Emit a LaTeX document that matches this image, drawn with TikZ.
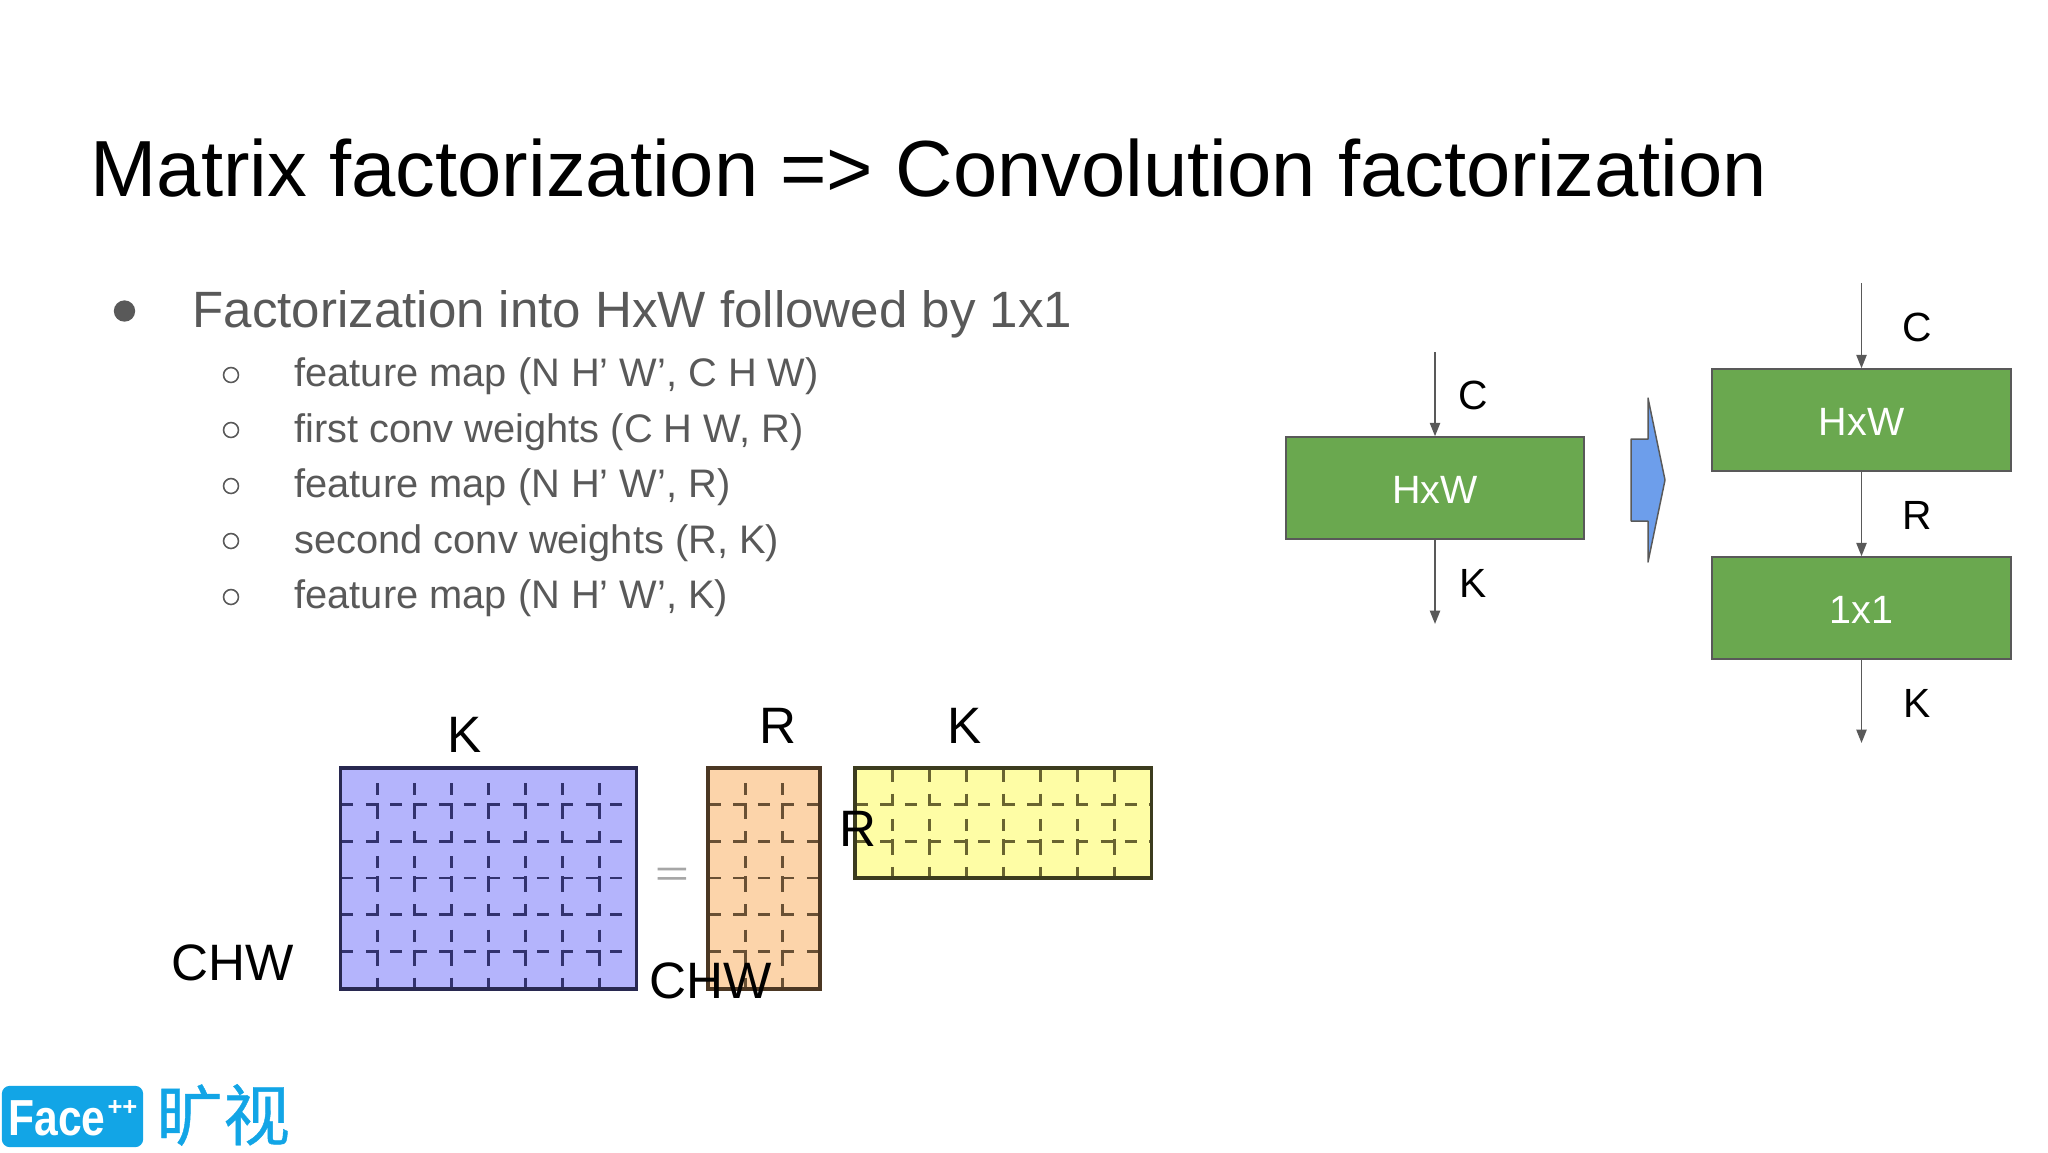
\documentclass[tikz,border=0pt]{standalone}
\usepackage{fontspec}
\setmainfont{Liberation Sans}
\newfontfamily\cjk[FakeBold=.6]{Noto Sans CJK SC}
\usetikzlibrary{arrows.meta}
\definecolor{slidegray}{HTML}{595959}
\definecolor{convgreen}{HTML}{6AA84F}
\definecolor{facepp}{HTML}{12A5E6}
\tikzset{
  headline/.style={anchor=base west,inner sep=0pt,font=\fontsize{29.85}{35}\selectfont},
  bulletone/.style={anchor=base west,inner sep=0pt,text=slidegray,font=\fontsize{19.15}{24}\selectfont},
  bullettwo/.style={anchor=base west,inner sep=0pt,text=slidegray,font=\fontsize{14.93}{19}\selectfont},
  dotfull/.style={circle,fill=slidegray,inner sep=0pt,minimum size=8pt},
  dotopen/.style={circle,draw=slidegray,line width=.6pt,inner sep=0pt,minimum size=5.6pt},
  conv/.style={draw=slidegray,line width=.8pt,fill=convgreen,text=white,minimum width=112pt,
    minimum height=38pt,inner sep=0pt,text height=11.6pt,text depth=0pt,font=\fontsize{14.8}{18}\selectfont},
  flow/.style={draw=slidegray,line width=.7pt,-{Triangle[length=5pt,width=3.8pt]}},
  dimsmall/.style={inner sep=0pt,font=\fontsize{15.3}{19}\selectfont},
  dimbig/.style={inner sep=0pt,font=\fontsize{19.2}{22}\selectfont},
  gridv/.style={line width=1pt,dash pattern=on 4.5pt off 3pt on 6pt off 4.5pt on 4.5pt off 5pt,dash phase=21.86pt},
  gridh/.style={line width=1pt,dash pattern=on 4.5pt off 4.67pt,dash phase=8.8pt},
  matbox/.style={line width=1.4pt}
}
\begin{document}
\begin{tikzpicture}[x=.375pt,y=-.375pt]
  \useasboundingbox (0,0) rectangle (2048,1152);

  \node[headline] (title) at (90,196) {Matrix factorization => Convolution factorization};

  % bullet list
  \node[dotfull] (dot0) at (124.5,311) {};
  \node[bulletone] (item0) at (192,327) {Factorization into HxW followed by 1x1};
  \foreach \i/\ya/\yb/\txt in {1/375/386.5/{feature map (N H’ W’, C H W)},
      2/430/442.5/{first conv weights (C H W, R)},
      3/486/497.5/{feature map (N H’ W’, R)},
      4/541/553.5/{second conv weights (R, K)},
      5/597/608.5/{feature map (N H’ W’, K)}} {
    \node[dotopen] (dot\i) at (231,\ya) {};
    \node[bullettwo] (item\i) at (294,\yb) {\txt};
  }

  % matrices
  \fill[fill={rgb,255:red,180;green,180;blue,252}] (340.4,768) rectangle (636.5,989);
  \foreach \a in {1,...,7}
    \draw[gridv,draw={rgb,255:red,50;green,50;blue,110}] (340.4+37*\a,768) -- (340.4+37*\a,989);
  \foreach \a in {1,...,5}
    \draw[gridh,draw={rgb,255:red,50;green,50;blue,110}] (340.4,768+36.7*\a) -- (636.5,768+36.7*\a);
  \draw[matbox,draw={rgb,255:red,40;green,40;blue,80}] (340.4,768) rectangle (636.5,989);

  \fill[fill={rgb,255:red,252;green,212;blue,170}] (708,768) rectangle (820,989);
  \foreach \a in {1,2}
    \draw[gridv,draw={rgb,255:red,105;green,80;blue,52}] (708+37.3*\a,768) -- (708+37.3*\a,989);
  \foreach \a in {1,...,5}
    \draw[gridh,draw={rgb,255:red,105;green,80;blue,52}] (708,768+36.7*\a) -- (820,768+36.7*\a);
  \draw[matbox,draw={rgb,255:red,75;green,55;blue,35}] (708,768) rectangle (820,989);

  \fill[fill={rgb,255:red,254;green,253;blue,165}] (855,768) rectangle (1151.6,878);
  \foreach \a in {1,...,7}
    \draw[gridv,dash phase=8.4pt,draw={rgb,255:red,105;green,100;blue,48}] (855.7+37*\a,768) -- (855.7+37*\a,878);
  \foreach \a in {1,2}
    \draw[gridh,draw={rgb,255:red,105;green,100;blue,48}] (855,768+36.7*\a) -- (1151.6,768+36.7*\a);
  \draw[matbox,draw={rgb,255:red,60;green,60;blue,30}] (855,768) rectangle (1151.6,878);

  \node[inner sep=0pt,text=gray!70,font=\fontsize{20}{24}\selectfont] (eq) at (672,877) {\scalebox{1.1}[.7]{=}};

  \node[dimbig] (kone) at (464.5,735) {K};
  \node[dimbig] (rone) at (778,726) {R};
  \node[dimbig] (ktwo) at (965,726) {K};
  \node[dimbig] (rtwo) at (858,829) {R};
  \node[dimbig] (chwone) at (232.3,963) {CHW};
  \node[dimbig] (chwtwo) at (710.3,981) {CHW};

  % single convolution
  \node[conv] (hxw) at (1435,488) {HxW};
  \coordinate (hxwin) at (1435,352);
  \coordinate (hxwout) at (1435,624);
  \draw[flow] (hxwin) -- (hxw);
  \draw[flow] (hxw) -- (hxwout);
  \node[dimsmall] (cleft) at (1473.5,395) {C};
  \node[dimsmall] (kleft) at (1473,583) {K};

  % big arrow
  \draw[draw=slidegray,line width=.55pt,fill={rgb,255:red,109;green,158;blue,235},line join=round]
    (1648,398) -- (1665,480) -- (1648,562) -- (1648,521) -- (1631,521) -- (1631,439) -- (1648,439) -- cycle;

  % factorized convolution
  \node[conv] (hxwb) at (1861.5,420) {HxW};
  \node[conv] (oneone) at (1861.5,608) {1x1};
  \coordinate (hxwbin) at (1861.5,283);
  \coordinate (oneout) at (1861.5,743);
  \draw[flow] (hxwbin) -- (hxwb);
  \draw[flow] (hxwb) -- (oneone);
  \draw[flow] (oneone) -- (oneout);
  \node[dimsmall] (cright) at (1917,327) {C};
  \node[dimsmall] (rright) at (1917,515) {R};
  \node[dimsmall] (kright) at (1917,703) {K};

  % logo
  \node[fill=facepp,rounded corners=3pt,minimum width=53pt,minimum height=23pt,inner sep=0pt] (logo) at (72.5,1116.5) {};
  \node[inner sep=0pt,anchor=base west,text=white,font=\fontsize{19}{22}\bfseries] (face) at (8,1135) {\scalebox{.84}[1]{Face}};
  \node[inner sep=0pt,anchor=base west,text=white,font=\fontsize{9.6}{12}\bfseries] (plus) at (107,1115) {++};
  \node[inner sep=0pt,anchor=base west,text=facepp,font=\fontsize{25}{28}\cjk] (kuangshi) at (156,1140) {旷视};
\end{tikzpicture}
\end{document}
